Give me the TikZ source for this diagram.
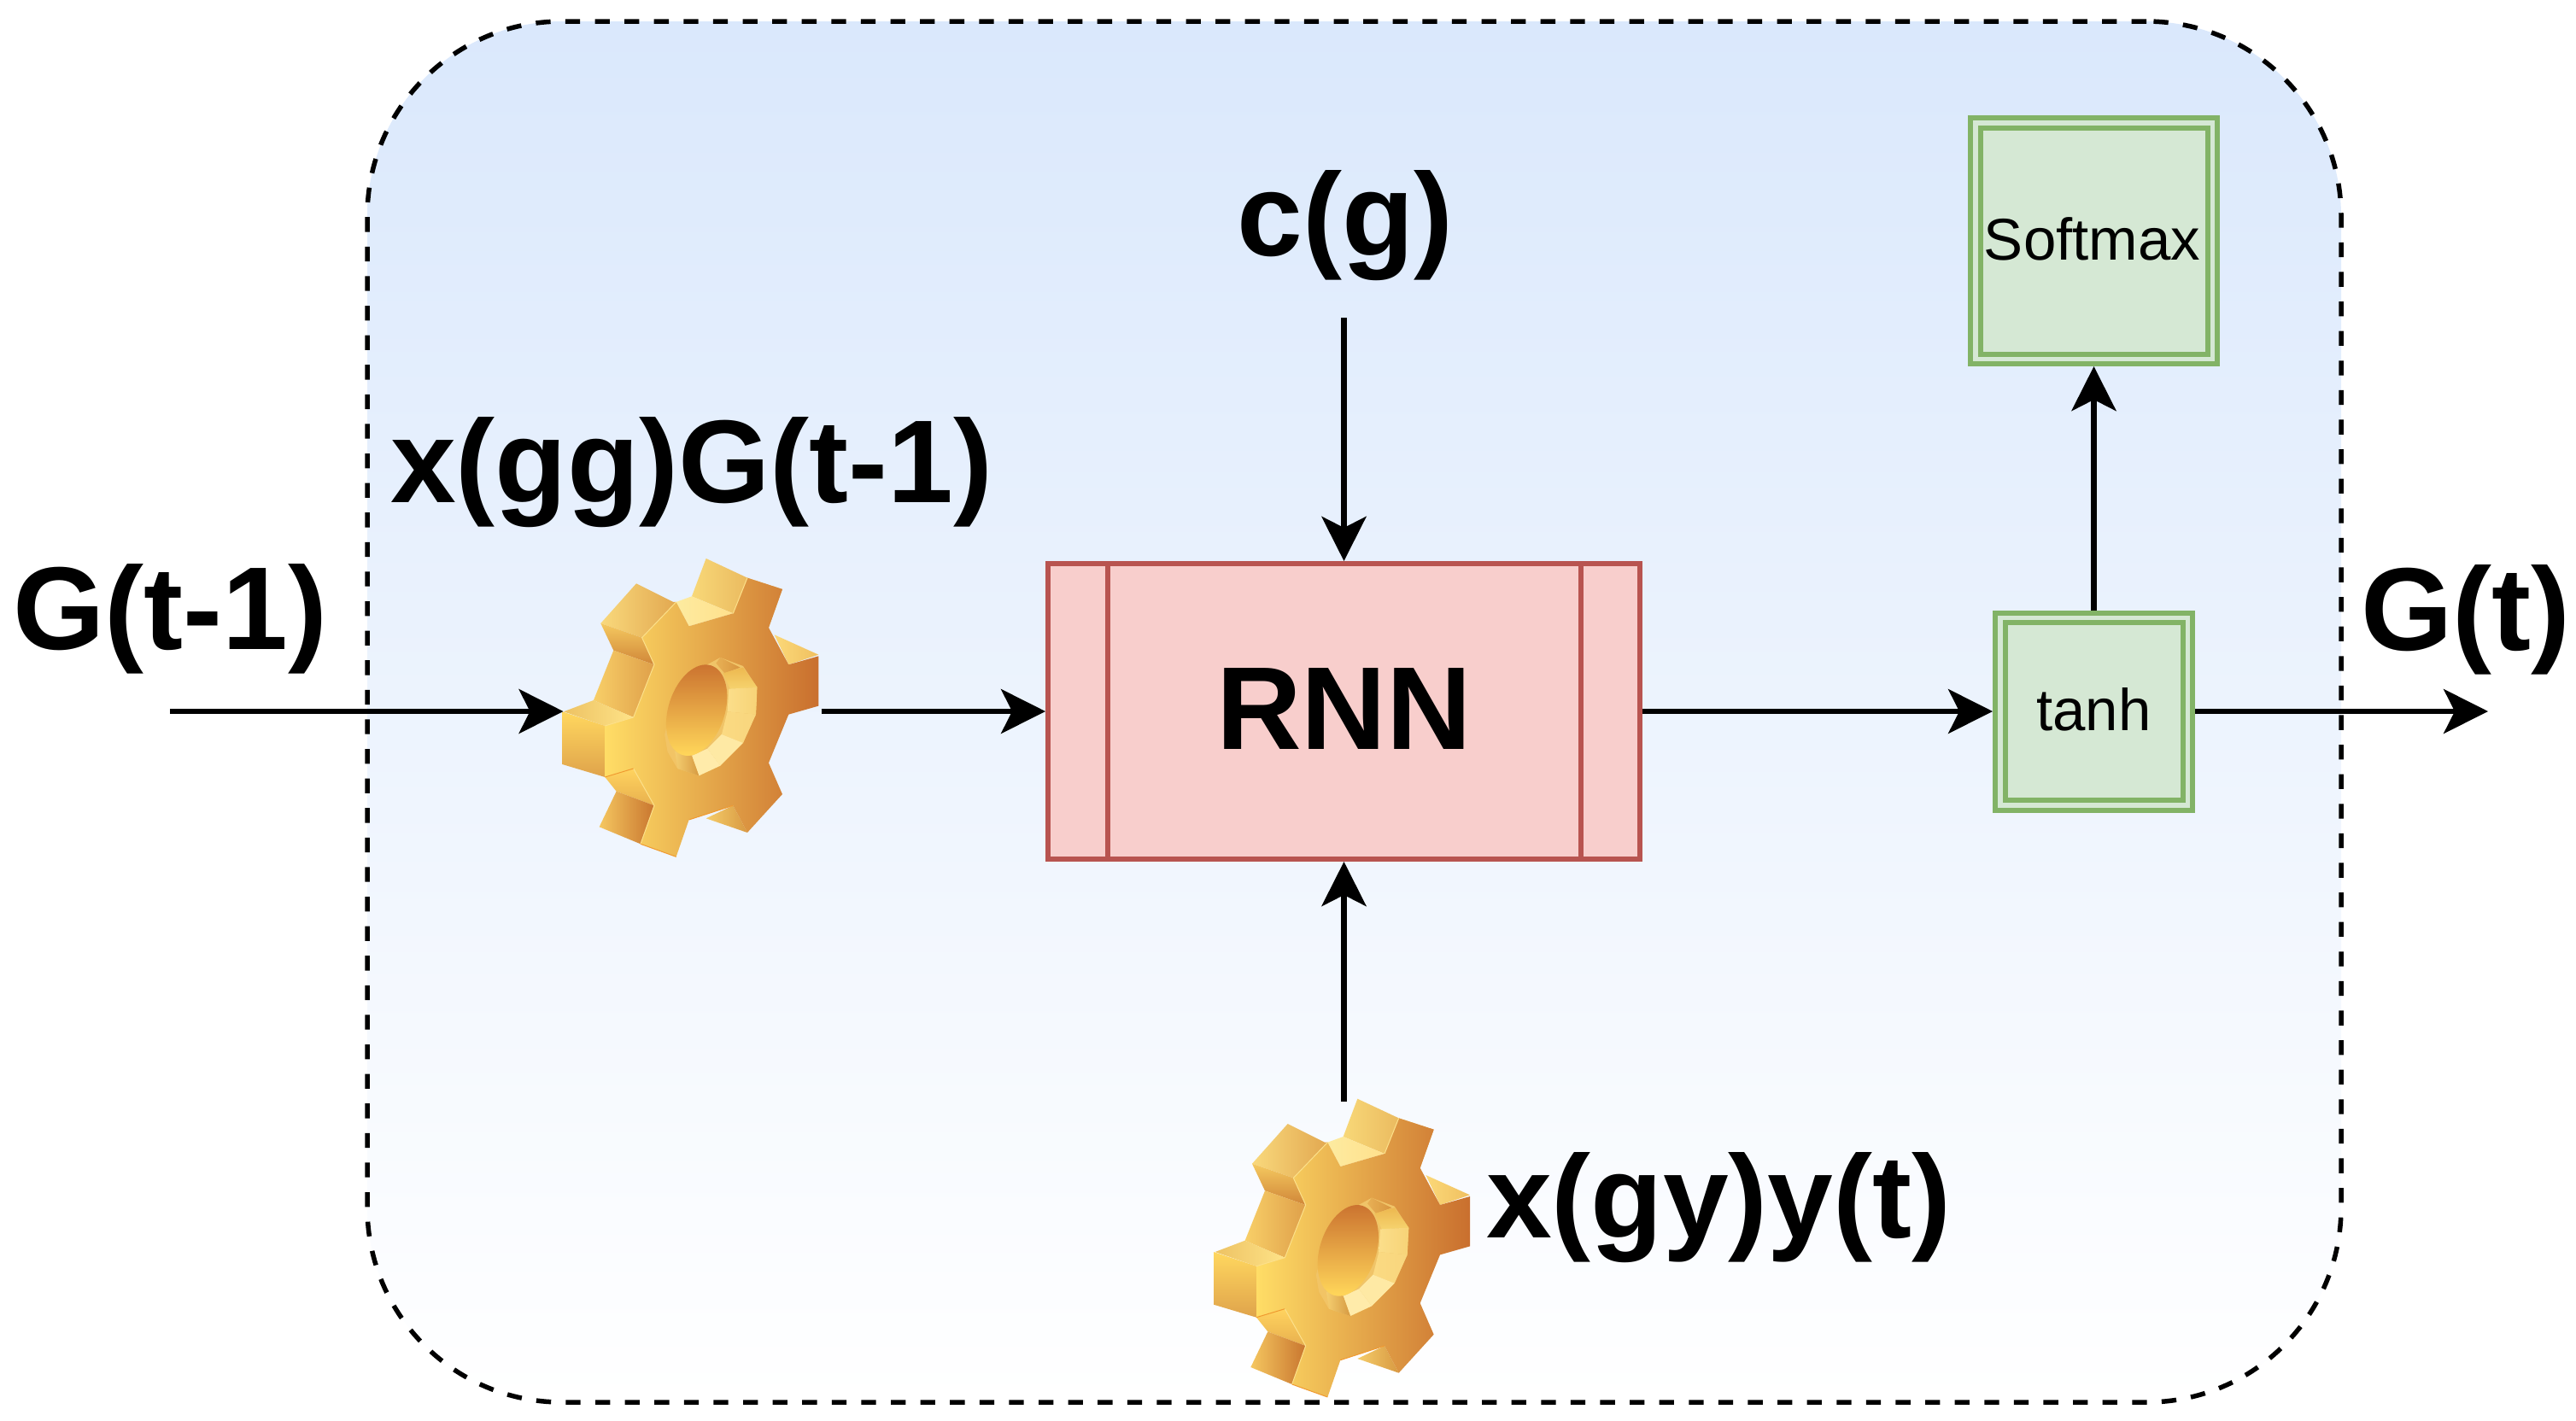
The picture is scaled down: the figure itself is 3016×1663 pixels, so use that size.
\documentclass[tikz,border=0pt]{standalone}
\usepackage{fontspec}
\setmainfont{Liberation Sans}
\usetikzlibrary{arrows.meta}
\definecolor{boxgreen}{HTML}{D5E8D4}
\definecolor{linegreen}{HTML}{82B366}
\definecolor{boxred}{HTML}{F8CECC}
\definecolor{linered}{HTML}{B85450}
\definecolor{paneltop}{HTML}{DAE8FC}
\newcommand\hexcol[1]{\definecolor{#1}{HTML}{#1}}
\hexcol{F8D878}\hexcol{E2A850}\hexcol{F9D97C}\hexcol{F5C960}\hexcol{D08638}\hexcol{F8CF68}\hexcol{DFA04A}
\hexcol{EDC263}\hexcol{FEE388}\hexcol{FFD75F}\hexcol{DFA34B}\hexcol{FFD35F}\hexcol{E8B04E}\hexcol{F5C760}
\hexcol{C9762F}\hexcol{FBD878}\hexcol{F0C060}\hexcol{F5CC6A}\hexcol{D89A42}\hexcol{FDEBA0}\hexcol{FFE08C}
\hexcol{FFDD66}\hexcol{E8B055}\hexcol{C96F2E}\hexcol{FCE08A}\hexcol{F09A30}\hexcol{F0C468}\hexcol{D8953F}
\hexcol{EDB850}\hexcol{F6D36E}\hexcol{FBDE8A}\hexcol{F7D377}\hexcol{FBDA82}\hexcol{F8D67E}\hexcol{FEE9A4}
\hexcol{FFEBAA}\hexcol{F4CE70}\hexcol{D79A42}\hexcol{F2C465}\hexcol{FFD65A}
\tikzset{
  flow/.style={line width=5.5pt,-{Stealth[length=52pt,width=52pt,inset=13pt]}},
  vflow/.style={flow,line width=7pt},
  biglabel/.style={inner sep=0pt,anchor=base west,font=\fontsize{138}{166}\selectfont\bfseries},
  dbox/.style={draw=linegreen,fill=boxgreen,line width=6pt,double=boxgreen,double distance=5.5pt,outer sep=8.75pt,inner sep=0pt,font=\fontsize{69}{80}\selectfont,text height=50pt},
  gearslot/.style={inner sep=0pt,outer sep=0pt,minimum width=302pt},
  grad/.style args={#1/#2}{left color=#1,right color=#2},
  vgrad/.style args={#1/#2}{top color=#1,bottom color=#2},
  gearshape/.pic={
    \begin{scope}[x=0.33333pt,y=-0.33333pt,shift={(-505,-598)}]
      % back parts
      \shade[grad={F8D878/E2A850}] (510,205)--(560,72)--(705,140)--(828,180)--(780,315)--(655,265)--cycle;
      \shade[grad={F9D97C/E2A850}] (190,300)--(315,160)--(445,225)--(455,225)--(335,350)--cycle;
      \shade[vgrad={F5C960/D08638}] (190,300)--(235,395)--(378,445)--(335,350)--cycle;
      \shade[grad={F8CF68/DFA04A}] (235,395)--(165,570)--(305,630)--(378,445)--cycle;
      \shade[grad={EDC263/FEE388}] (60,610)--(165,570)--(305,630)--(205,660)--cycle;
      \shade[vgrad={FFD75F/DFA34B}] (55,610)--(205,660)--(205,840)--(55,795)--cycle;
      \shade[vgrad={FFD35F/E8B04E}] (205,840)--(305,810)--(378,940)--(245,890)--cycle;
      \shade[grad={F5C760/C9762F}] (245,890)--(378,940)--(330,1075)--(185,1015)--cycle;
      \shade[grad={FBD878/F0C060}] (800,340)--(955,410)--(850,445)--cycle;
      \shade[grad={F5CC6A/D89A42}] (560,985)--(655,940)--(705,1035)--cycle;
      \shade[grad={FDEBA0/FFE08C}] (455,225)--(510,205)--(655,265)--(500,310)--cycle;
      % front face
      \shade[left color=FFDD66,middle color=E8B055,right color=C96F2E]
        (455,225)--(500,310)--(655,265)--(705,140)--(828,180)--(780,315)--(850,445)--(955,415)--(955,590)--(850,620)--(780,790)--(828,900)--(705,1035)--(655,940)--(500,990)--(455,1120)--(330,1075)--(378,940)--(305,810)--(205,840)--(205,660)--(305,630)--(378,445)--(335,350)--cycle;
      \draw[FCE08A,line width=1pt] (455,225)--(335,350)--(378,445)--(305,630)--(205,660);
      \draw[FCE08A,line width=1pt] (705,140)--(655,265);
      \draw[FCE08A,line width=1pt] (305,810)--(378,940)--(330,1075);
      \draw[F09A30,line width=1pt] (205,840)--(305,810);
      \draw[F09A30,line width=1pt] (330,1075)--(455,1120);
      \draw[F09A30,line width=1pt] (500,990)--(655,940);
      % rim of the hole
      \fill[F0C468] (415,690)--(440,590)--(500,480)--(610,420)--(690,450)--(740,525)--(735,620)--(690,720)--(610,800)--(535,835)--(460,810)--(425,750)--cycle;
      \shade[grad={E8B055/D8953F}] (595,440)--(610,420)--(680,455)--(625,475)--cycle;
      \shade[vgrad={EDB850/F6D36E}] (620,475)--(690,455)--(740,525)--(645,530)--cycle;
      \shade[grad={FBDE8A/F7D377}] (640,530)--(740,525)--(735,620)--(635,610)--cycle;
      \shade[grad={FBDA82/F8D67E}] (635,610)--(735,620)--(690,720)--(615,690)--cycle;
      \fill[FEE9A4] (615,690)--(690,720)--(610,800)--(565,740)--cycle;
      \fill[FFEBAA] (565,740)--(610,800)--(535,835)--(510,765)--cycle;
      \shade[grad={F4CE70/D79A42}] (450,750)--(510,765)--(535,835)--(460,810)--cycle;
      \fill[F2C465] (415,690)--(450,750)--(460,810)--(425,750)--cycle;
      \shade[vgrad={C96F2E/FFD65A}] (527,605) ellipse [x radius=55pt,y radius=33pt,rotate=72];
    \end{scope}
  }
}
\begin{document}
\begin{tikzpicture}[x=1pt,y=-1pt]
  \useasboundingbox (0,0) rectangle (3016,1663);
  \node (panel) [draw=black,line width=5.5pt,dash pattern=on 17.3pt off 17.3pt,rounded corners=228pt,top color=paneltop,bottom color=white,minimum width=2311pt,minimum height=1617pt,inner sep=0pt] at (1585.5,833.5) {};

  \node (rnn) [draw=linered,fill=boxred,line width=6pt,minimum width=693pt,minimum height=346pt,inner sep=0pt,font=\fontsize{138}{166}\selectfont\bfseries,text height=100pt,text depth=12pt] at (1573.5,833) {RNN};
  \draw[linered,line width=6pt] ([xshift=73pt]rnn.north west) -- ([xshift=73pt]rnn.south west);
  \draw[linered,line width=6pt] ([xshift=-72pt]rnn.north east) -- ([xshift=-72pt]rnn.south east);

  \node (softmax) [dbox,minimum width=277.5pt,minimum height=276.5pt,text depth=6pt] at (2451.5,282) {\kern-4pt Softmax};
  \node (tanh) [dbox,minimum width=219.5pt,minimum height=219.5pt,text depth=6pt] at (2451.5,833) {tanh};

  \node (g1) [gearslot,minimum height=351pt] at (810.5,833) {};
  \node (g2) [gearslot,minimum height=344pt] at (1573.5,1462) {};
  \pic at ([shift={(-2.2,-3.7)}]g1.center) {gearshape};
  \pic at ([shift={(-2.5,0)}]g2.center) {gearshape};

  \node (lgin) [biglabel] at (15,760) {G(t-1)};
  \node (lggt) [biglabel] at (457,588) {x(gg)G(t-1)};
  \node (lcg) [biglabel,anchor=base] at (1575,299) {c(g)};
  \node (lgy) [biglabel] at (1740,1449) {x(gy)y(t)};
  \node (lgout) [biglabel] at (2764,761) {G(t)};

  \coordinate (gin) at (199,833);
  \coordinate (gout) at (2913,833);
  \coordinate (cgend) at (1573.5,372);

  \draw[flow] (gin) -- (g1.west);
  \draw[flow] (g1.east) -- (rnn.west);
  \draw[vflow] (cgend) -- (rnn.north);
  \draw[vflow] (g2.north) -- (rnn.south);
  \draw[flow] (rnn.east) -- (tanh.west);
  \draw[vflow] (tanh.north) -- (softmax.south);
  \draw[flow] (tanh.east) -- (gout);
\end{tikzpicture}
\end{document}
